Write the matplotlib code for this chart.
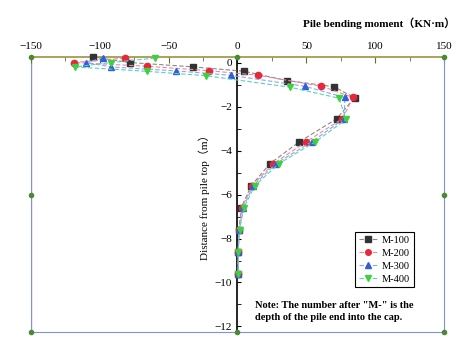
import matplotlib
matplotlib.use("Agg")
import matplotlib.pyplot as plt
from matplotlib.ticker import MultipleLocator

serif = ["Liberation Serif", "Noto Sans CJK SC"]

# depth (m, from pile top) and bending moment (kN*m) per case
m100_depth = [0.25, 0.0, -0.2, -0.4, -0.82, -1.1, -1.6, -2.56, -3.6, -4.6, -5.6, -6.6, -7.6, -8.6, -9.6]
m100_moment = [-105, -78, -32, 5, 36, 70, 85, 72, 45, 23.5, 10, 2.7, 1.0, 0.5, 0.5]

m200_depth = [0.2, 0.0, -0.17, -0.37, -0.58, -1.08, -1.59, -2.56, -3.6, -4.6, -5.6, -6.6, -7.6, -8.6, -9.6]
m200_moment = [-82, -119, -66, -21, 15, 61, 84, 76, 50, 26, 10.6, 3.3, 1.1, 0.5, 0.5]

m300_depth = [0.2, 0.0, -0.2, -0.38, -0.58, -1.08, -1.59, -2.56, -3.6, -4.6, -5.6, -6.6, -7.6, -8.6, -9.6]
m300_moment = [-98, -110, -92, -45, -5, 49, 78, 77.5, 54, 27.8, 11.4, 4.0, 1.3, 0.5, 0.5]

m400_depth = [0.2, 0.0, -0.2, -0.4, -0.6, -1.12, -1.62, -2.58, -3.6, -4.6, -5.6, -6.6, -7.6, -8.6, -9.6]
m400_moment = [-60, -92, -118, -66, -23, 38, 73.6, 79, 56.6, 30, 12.6, 4.6, 1.5, 0.5, 0.5]

labels = ["M-100", "M-200", "M-300", "M-400"]

fig = plt.figure(figsize=(4.74, 3.55), dpi=100)
ax = fig.add_axes([0.0654, 0.0648, 0.8713, 0.7746])

styles = [
    ("s", "#333333", "#8a8a8a"),
    ("o", "#e8283a", "#f08a9a"),
    ("^", "#2f5fd9", "#8aa8ee"),
    ("v", "#3fcf3f", "#5fcfc0"),
]
series = [(m100_moment, m100_depth), (m200_moment, m200_depth),
          (m300_moment, m300_depth), (m400_moment, m400_depth)]
for (xs, ys), (mk, mc, lc), lab in zip(series, styles, labels):
    ax.plot(xs, ys, ls=(0, (4, 2)), lw=0.8, color=lc, marker=mk,
            ms=4.5, mfc=mc, mec=mc, label=lab, clip_on=False, zorder=3)

ax.set_xlim(-150, 150)
ax.set_ylim(-12.25, 0.25)

# frame
ax.spines["top"].set_color("#9a9540")
ax.spines["top"].set_linewidth(1.2)
ax.spines["right"].set_color("#8090e0")
ax.spines["bottom"].set_color("#8090e0")
ax.spines["left"].set_position(("data", 0))
ax.spines["left"].set_color("black")
ax.spines["left"].set_linewidth(1.2)
ax.axvline(-150, color="#8090e0", lw=1.0, zorder=1)

ax.xaxis.set_ticks_position("top")
ax.xaxis.set_label_position("top")
ax.set_xticks([-150, -100, -50, 0, 50, 100, 150])
ax.xaxis.set_minor_locator(MultipleLocator(25))
ax.tick_params(axis="x", which="both", direction="in", colors="#6a6a30",
               labelcolor="black", pad=4)
ax.tick_params(axis="x", which="major", length=4)
ax.tick_params(axis="x", which="minor", length=3)

ax.set_yticks([0, -2, -4, -6, -8, -10, -12])
ax.yaxis.set_minor_locator(MultipleLocator(1))
ax.tick_params(axis="y", which="both", direction="in", length=3, pad=4)
for t in ax.get_xticklabels() + ax.get_yticklabels():
    t.set_family(serif)
    t.set_fontsize(8)

# green dots on the frame
dots_x = [-150, 0, 150, -150, 150, -150, 0, 150]
dots_y = [0.25, 0.25, 0.25, -6, -6, -12.25, -12.25, -12.25]
ax.plot(dots_x, dots_y, ls="none", marker="o", ms=3, color="#4a8a30",
        clip_on=False, zorder=4)

ax.text(-24, -6.0, "Distance from pile top（m）", rotation=90, ha="center",
        va="center", family=serif, fontsize=8)
fig.text(0.80, 0.935, "Pile bending moment（KN·m）", ha="center", va="center",
         family=serif, fontsize=8, fontweight="bold")
ax.text(13, -10.85, "Note: The number after \"M-\" is the\ndepth of the pile end into the cap.",
        ha="left", va="top", family=serif, fontsize=7.5, fontweight="bold",
        linespacing=1.4)

leg = ax.legend(loc="upper left", bbox_to_anchor=(0.785, 0.364), fancybox=False,
                edgecolor="black", framealpha=1, prop={"family": serif, "size": 7.5},
                handlelength=1.8, labelspacing=0.35, borderpad=0.35,
                handletextpad=0.4, borderaxespad=0, markerscale=0.9)
leg.get_frame().set_linewidth(0.8)

fig.savefig("out.png", dpi=100)
